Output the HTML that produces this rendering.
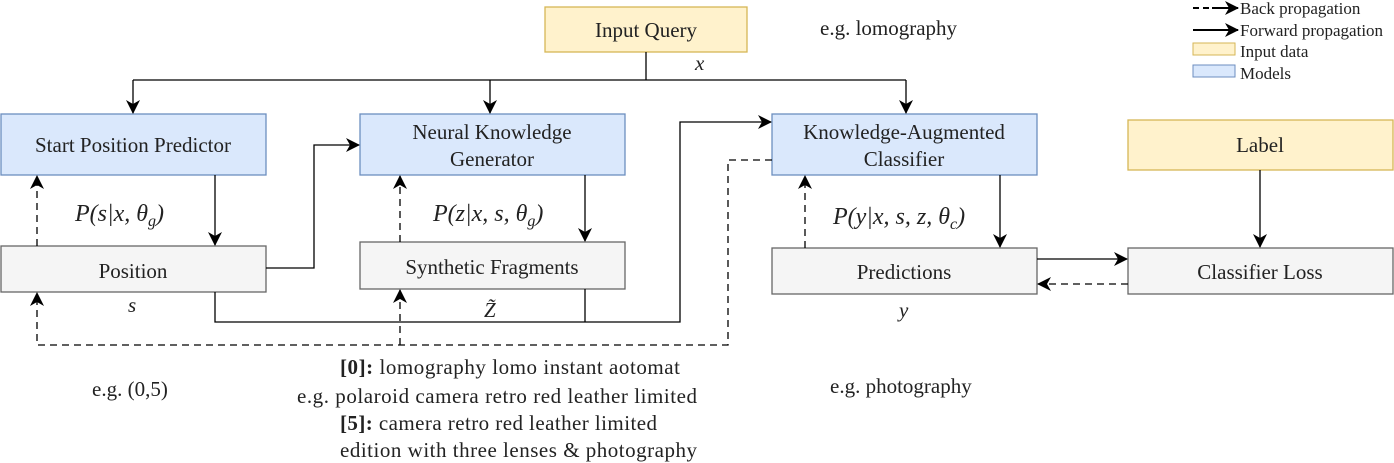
<!DOCTYPE html><html><head><style>body{margin:0;background:#fff}svg{display:block}text{font-family:"Liberation Serif",serif;fill:#222}</style></head><body>
<svg width="1394" height="463" viewBox="0 0 1394 463">
<defs><marker id="a" markerWidth="14" markerHeight="14" refX="13" refY="7" orient="auto" markerUnits="userSpaceOnUse"><path d="M0,0 L14,7 L0,14 L4,7z" fill="#000"/></marker></defs>
<g stroke-width="1.3">
<rect x="545" y="7" width="202" height="45" fill="#fff2cc" stroke="#d6b656"/>
<rect x="1" y="114" width="265" height="61" fill="#dae8fc" stroke="#6c8ebf"/>
<rect x="360" y="114" width="265" height="61" fill="#dae8fc" stroke="#6c8ebf"/>
<rect x="772" y="114" width="265" height="61" fill="#dae8fc" stroke="#6c8ebf"/>
<rect x="1128" y="120" width="265" height="50" fill="#fff2cc" stroke="#d6b656"/>
<rect x="1" y="246" width="265" height="46" fill="#f5f5f5" stroke="#666"/>
<rect x="360" y="242" width="265" height="47" fill="#f5f5f5" stroke="#666"/>
<rect x="772" y="248" width="265" height="46" fill="#f5f5f5" stroke="#666"/>
<rect x="1128" y="248" width="265" height="46" fill="#f5f5f5" stroke="#666"/>
</g>
<g stroke="#000" stroke-width="1.3" fill="none">
<path d="M646,52 V80"/><path d="M133,80 H906"/>
<path d="M133,80 V113" marker-end="url(#a)"/><path d="M490,80 V113" marker-end="url(#a)"/><path d="M906,80 V113" marker-end="url(#a)"/>
<path d="M215,175 V245" marker-end="url(#a)"/>
<path d="M266,268 H314 V145 H359" marker-end="url(#a)"/>
<path d="M585,175 V241" marker-end="url(#a)"/>
<path d="M215,292 V322 H680 V122 H771" marker-end="url(#a)"/>
<path d="M585,289 V322"/>
<path d="M1000,175 V247" marker-end="url(#a)"/>
<path d="M1037,259 H1127" marker-end="url(#a)"/>
<path d="M1260,170 V247" marker-end="url(#a)"/>
<g stroke-dasharray="7,5">
<path d="M37,246 V176" marker-end="url(#a)"/>
<path d="M400,242 V176" marker-end="url(#a)"/>
<path d="M772,160 H728 V345 H37 V293" marker-end="url(#a)"/>
<path d="M400,345 V290" marker-end="url(#a)"/>
<path d="M805,248 V176" marker-end="url(#a)"/>
<path d="M1128,284 H1038" marker-end="url(#a)"/>
</g>
<path d="M1193,8 H1199 M1203,8 H1209" stroke-width="2"/><path d="M1212,8 H1238" stroke-width="2" marker-end="url(#a)"/>
<path d="M1193,30 H1238" stroke-width="2" marker-end="url(#a)"/>
</g>
<rect x="1193" y="43" width="42" height="12" fill="#fff2cc" stroke="#d6b656"/>
<rect x="1193" y="65" width="42" height="12" fill="#dae8fc" stroke="#6c8ebf"/>
<g font-size="17"><text x="1240" y="14">Back propagation</text><text x="1240" y="36">Forward propagation</text><text x="1240" y="57">Input data</text><text x="1240" y="79">Models</text></g>
<g font-size="21" text-anchor="middle">
<text x="646" y="37">Input Query</text>
<text x="133" y="152">Start Position Predictor</text>
<text x="492" y="139">Neural Knowledge</text><text x="492" y="166">Generator</text>
<text x="904" y="139">Knowledge-Augmented</text><text x="904" y="166">Classifier</text>
<text x="1260" y="152">Label</text>
<text x="133" y="278" fill="#444">Position</text>
<text x="492" y="274" fill="#444">Synthetic Fragments</text>
<text x="904" y="279" fill="#444">Predictions</text>
<text x="1260" y="279" fill="#444">Classifier Loss</text>
</g>
<g font-size="21">
<text x="820" y="35">e.g. lomography</text>
<text x="695" y="70" font-style="italic">x</text>
<g font-size="24" font-style="italic">
<text x="75" y="221">P(s|x, θ<tspan font-size="16" dy="5">g</tspan><tspan dy="-5">)</tspan></text>
<text x="433" y="221">P(z|x, s, θ<tspan font-size="16" dy="5">g</tspan><tspan dy="-5">)</tspan></text>
<text x="833" y="224">P(y|x, s, z, θ<tspan font-size="16" dy="5">c</tspan><tspan dy="-5">)</tspan></text>
</g>
<text x="128" y="312" font-style="italic">s</text>
<text x="484" y="317" font-style="italic">Z̃</text>
<text x="899" y="317" font-style="italic">y</text>
<text x="92" y="396">e.g. (0,5)</text>
<text x="830" y="393">e.g. photography</text>
<text x="340" y="374" textLength="340"><tspan font-weight="bold">[0]:</tspan> lomography lomo instant aotomat</text>
<text x="297" y="403" textLength="400">e.g.  polaroid camera retro red leather limited</text>
<text x="340" y="430" textLength="317"><tspan font-weight="bold">[5]:</tspan> camera retro red leather limited</text>
<text x="340" y="457" textLength="357">edition with three lenses &amp; photography</text>
</g>
</svg></body></html>
